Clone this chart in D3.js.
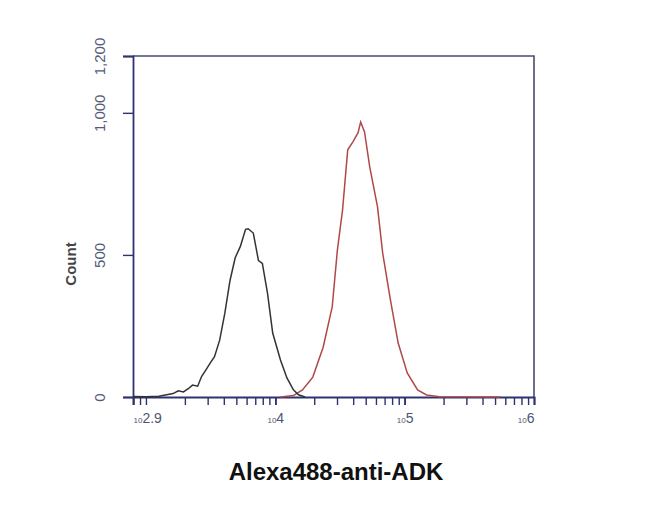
<!DOCTYPE html>
<html>
<head>
<meta charset="utf-8">
<script src="https://cdn.jsdelivr.net/npm/d3@7"></script>
<style>
  body { margin: 0; background: #fff; }
  svg { display: block; }
</style>
</head>
<body>
<svg id="chart" width="650" height="518"></svg>
<script>
// Data: log10 intensity vs event count
var blackLog   = [2.90, 3.00, 3.10, 3.16, 3.21, 3.25, 3.29, 3.33, 3.36, 3.40, 3.43, 3.47, 3.50, 3.53, 3.57, 3.61, 3.65, 3.69, 3.73, 3.77, 3.79, 3.83, 3.87, 3.90, 3.94, 3.98, 4.04, 4.09, 4.14, 4.18, 4.23];
var blackCount = [2,    1,    3,    8,    12,   22,   18,   30,   42,   38,   72,   100,  122,  142,  200,  295,  410,  490,  530,  590,  592,  577,  480,  470,  365,  225,  130,  67,   25,   8,    0];

var redLog     = [4.04, 4.14, 4.21, 4.29, 4.37, 4.44, 4.48, 4.52, 4.56, 4.60, 4.64, 4.66, 4.69, 4.73, 4.79, 4.83, 4.89, 4.95, 5.02, 5.10, 5.17, 5.27, 5.74];
var redCount   = [0,    5,    25,   70,   175,  317,  517,  658,  870,  898,  930,  968,  933,  810,  670,  507,  342,  190,  85,   25,   7,    1,    0];

var yTicks      = [0, 500, 1000, 1200];
var yTickLabels = ["0", "500", "1,000", "1,200"];
var xMajorExp   = [2.9, 4, 5, 6];
var xTitle = "Alexa488-anti-ADK";
var yTitle = "Count";

// Layout
var svg = d3.select("#chart");
var margin = { left: 133, right: 116, top: 56, bottom: 121 };
var W = 650 - margin.left - margin.right;
var H = 518 - margin.top - margin.bottom;
var axisColor = "#2e3270";
var font = "Liberation Sans, Arial, sans-serif";

var g = svg.append("g")
    .attr("transform", "translate(" + margin.left + "," + margin.top + ")");

var x = d3.scaleLog()
    .domain([Math.pow(10, 2.9), 1e6])
    .range([0, W]);
var y = d3.scaleLinear()
    .domain([0, 1200])
    .range([H, 0]);

// frame top + right
g.append("path")
    .attr("d", "M0,0H" + W + "V" + H)
    .attr("fill", "none")
    .attr("stroke", "#4a4d6e")
    .attr("stroke-width", 1.6);

// minor ticks: 1..10 x each decade, plus 800/900
var minor = [800, 900];
[1e3, 1e4, 1e5].forEach(function(d) {
  for (var k = 1; k <= 10; k++) minor.push(d * k);
});
var xMinor = g.append("g")
    .attr("transform", "translate(0," + H + ")")
    .call(d3.axisBottom(x).tickValues(minor).tickSize(8).tickFormat(""));
xMinor.selectAll("line").attr("stroke", axisColor).attr("stroke-width", 1.4);
xMinor.select(".domain").remove();

// x axis with decade labels
var xAxis = g.append("g")
    .attr("transform", "translate(0," + H + ")")
    .call(d3.axisBottom(x)
      .tickValues(xMajorExp.map(function(e) { return Math.pow(10, e); }))
      .tickSize(8).tickFormat(""));
xAxis.select(".domain").attr("stroke", axisColor).attr("stroke-width", 1.8);
xAxis.selectAll("line").attr("stroke", axisColor).attr("stroke-width", 1.4);

xAxis.selectAll(".tick").each(function(d, i) {
  var t = d3.select(this).append("text")
      .attr("y", 26)
      .attr("fill", "#4d5577")
      .attr("font-family", font)
      .attr("text-anchor", i === 0 ? "start" : (i === xMajorExp.length - 1 ? "end" : "middle"));
  t.append("tspan").attr("font-size", 8).text("10");
  t.append("tspan").attr("font-size", 14).text(xMajorExp[i]);
});

// y axis
var yAxis = g.append("g")
    .call(d3.axisLeft(y).tickValues(yTicks).tickSize(10)
      .tickFormat(function(d, i) { return yTickLabels[i]; }));
yAxis.select(".domain").attr("stroke", axisColor).attr("stroke-width", 1.8);
yAxis.selectAll("line").attr("stroke", axisColor).attr("stroke-width", 1.4);
yAxis.selectAll("text")
    .attr("transform", "rotate(-90)")
    .attr("x", 0)
    .attr("y", -28)
    .attr("dy", 0)
    .attr("text-anchor", "middle")
    .attr("fill", "#555a78")
    .attr("font-size", 15)
    .attr("font-family", font);

// curves
var line = d3.line()
    .x(function(d) { return x(Math.pow(10, d[0])); })
    .y(function(d) { return y(d[1]); });

g.append("path")
    .datum(d3.zip(redLog, redCount))
    .attr("d", line)
    .attr("fill", "none")
    .attr("stroke", "#b04848")
    .attr("stroke-width", 1.5);

g.append("path")
    .datum(d3.zip(blackLog, blackCount))
    .attr("d", line)
    .attr("fill", "none")
    .attr("stroke", "#333333")
    .attr("stroke-width", 1.5);

// titles
svg.append("text")
    .attr("transform", "translate(76,264) rotate(-90)")
    .attr("text-anchor", "middle")
    .attr("font-family", font)
    .attr("font-weight", "bold")
    .attr("font-size", 15)
    .attr("fill", "#444")
    .text(yTitle);

svg.append("text")
    .attr("x", 336)
    .attr("y", 480)
    .attr("text-anchor", "middle")
    .attr("font-family", font)
    .attr("font-weight", "bold")
    .attr("font-size", 24)
    .attr("fill", "#111")
    .text(xTitle);
</script>
</body>
</html>
